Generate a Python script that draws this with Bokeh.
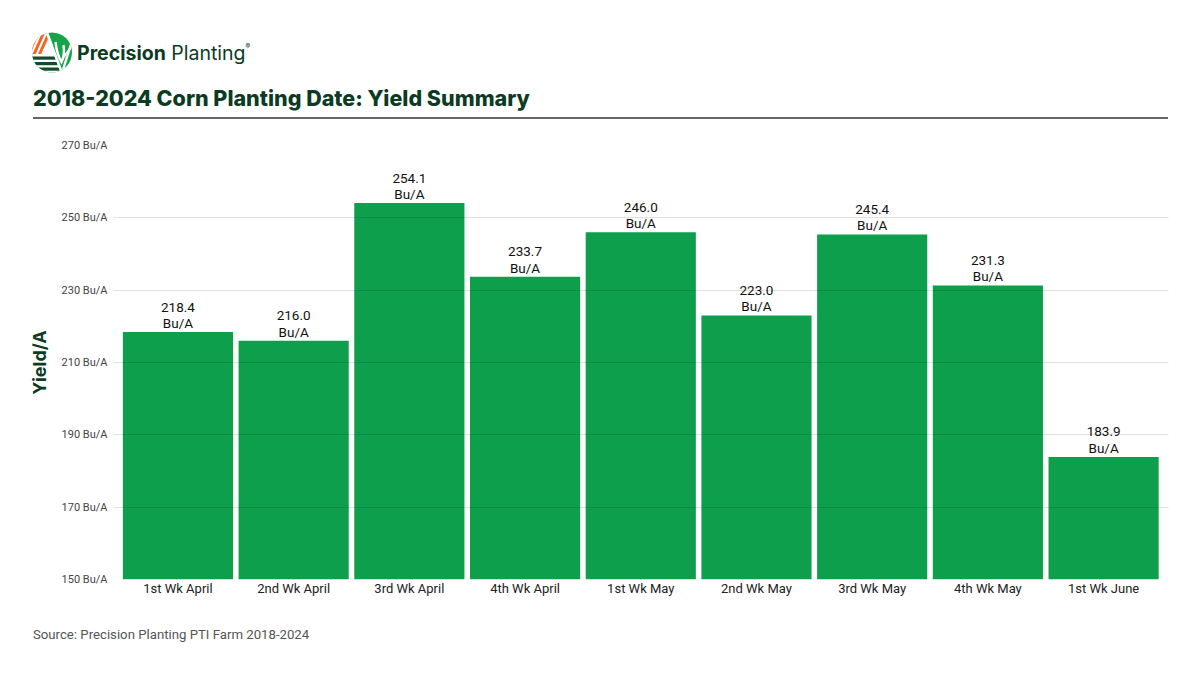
from bokeh.plotting import figure
from bokeh.models import Range1d, FixedTicker, PrintfTickFormatter, ColumnDataSource, Div
from bokeh.layouts import column
from bokeh.core.properties import value
from bokeh.embed import file_html
from bokeh.resources import INLINE

# ---------------- data ----------------
categories = ["1st Wk April", "2nd Wk April", "3rd Wk April", "4th Wk April",
              "1st Wk May", "2nd Wk May", "3rd Wk May", "4th Wk May", "1st Wk June"]
yields = [218.4, 216.0, 254.1, 233.7, 246.0, 223.0, 245.4, 231.3, 183.9]
y_ticks = [150, 170, 190, 210, 230, 250, 270]

brand_bold = "Precision"
brand_regular = "Planting"
title_text = "2018-2024 Corn Planting Date: Yield Summary"
source_text = "Source: Precision Planting PTI Farm 2018-2024"

FONT = "Roboto"
TFONT = "Inter"
DARK = "#0c3b24"
BAR = "#0e9f4d"

W = 1184
HDR_H = 133
MAIN_H = 477
FTR_H = 49

# ---------------- header (logo, brand, title, rule) ----------------
header_svg = f"""
<svg xmlns="http://www.w3.org/2000/svg" width="{W}" height="{HDR_H}" style="display:block">
  <defs>
    <clipPath id="lc"><circle cx="52" cy="52.5" r="20"/></clipPath>
    <clipPath id="ll"><polygon points="30,30 44.5,30 61.5,75 30,75"/></clipPath>
  </defs>
  <g clip-path="url(#lc)">
    <rect x="30" y="30" width="45" height="45" fill="#17a34a"/>
    <polygon points="30,30 45.5,30 62.5,75 30,75" fill="#ffffff"/>
    <g clip-path="url(#ll)">
      <polygon points="27,54 30.2,54 39.2,34 36,34" fill="#f26522"/>
      <polygon points="32.5,54 35.7,54 44.7,34 41.5,34" fill="#f26522"/>
      <polygon points="38,54 41.2,54 50.2,34 47,34" fill="#f26522"/>
      <rect x="30" y="56.5" width="30" height="3.2" fill="#0f4d2c"/>
      <rect x="30" y="62" width="30" height="3.2" fill="#0f4d2c"/>
      <rect x="30" y="67.5" width="30" height="3.2" fill="#0f4d2c"/>
    </g>
    <polyline points="46.5,31 62,73 72,41" fill="none" stroke="#ffffff" stroke-width="2.4"/>
    <path d="M55.5,42 Q57,55 61.5,62 Q65,54 63.5,45" fill="none" stroke="#ffffff" stroke-width="2.4"/>
    <path d="M61.5,62 Q66,52 71,48" fill="none" stroke="#ffffff" stroke-width="1.8"/>
  </g>
  <text x="77" y="52.5" dominant-baseline="central" style="font-family:'{TFONT}';font-size:19.5px;fill:{DARK}"><tspan style="font-weight:700">{brand_bold}</tspan><tspan style="font-weight:400"> {brand_regular}</tspan><tspan style="font-size:7px" dy="-7">®</tspan></text>
  <text x="33" y="97.5" dominant-baseline="central" style="font-family:'{TFONT}';font-weight:800;font-size:21.5px;fill:{DARK}">{title_text}</text>
  <line x1="33" y1="118" x2="1168" y2="118" stroke="#333333" stroke-width="1.5"/>
</svg>
"""
hdr = Div(text=header_svg, width=W, height=HDR_H, styles={"margin": "0", "padding": "0"})

# ---------------- main chart ----------------
FL, FR = 113, 1168          # frame left / right on page
xs = list(range(len(categories)))
src = ColumnDataSource(dict(x=xs, top=yields, lbl=[f"{v:.1f}" for v in yields],
                            unit=["Bu/A"] * len(yields)))

p = figure(width=W, height=MAIN_H, x_range=Range1d(-0.557, 8.561), y_range=Range1d(150, 270),
           output_backend="svg", toolbar_location=None,
           min_border_left=FL, min_border_right=W - FR, min_border_top=12, min_border_bottom=31)
p.outline_line_color = None
p.vbar(x="x", top="top", bottom=150, width=0.952, source=src,
       fill_color=BAR, fill_alpha=1.0, line_color=None)
p.text(x="x", y="top", text="lbl", source=src, y_offset=-25, text_align="center",
       text_baseline="middle", text_font=value(FONT), text_font_size="13.5px", text_color="#111111")
p.text(x="x", y="top", text="unit", source=src, y_offset=-9, text_align="center",
       text_baseline="middle", text_font=value(FONT), text_font_size="13.5px", text_color="#111111")

p.xgrid.visible = False
p.ygrid.grid_line_color = "black"
p.ygrid.grid_line_alpha = 0.12
p.ygrid.level = "annotation"
p.ygrid.ticker = FixedTicker(ticks=y_ticks)

p.yaxis.ticker = FixedTicker(ticks=y_ticks)
p.yaxis.formatter = PrintfTickFormatter(format="%d Bu/A")
p.yaxis.axis_line_color = None
p.yaxis.major_tick_line_color = None
p.yaxis.minor_tick_line_color = None
p.yaxis.major_tick_out = 0
p.yaxis.major_tick_in = 0
p.yaxis.minor_tick_out = 0
p.yaxis.major_label_text_font = FONT
p.yaxis.major_label_text_font_size = "11px"
p.yaxis.major_label_text_color = "#444444"
p.yaxis.major_label_standoff = 6
p.yaxis.axis_label = "Yield/A"
p.yaxis.axis_label_text_font = TFONT
p.yaxis.axis_label_text_font_style = "bold"
p.yaxis.axis_label_text_font_size = "18px"
p.yaxis.axis_label_text_color = DARK
p.yaxis.axis_label_standoff = 9

p.xaxis.ticker = FixedTicker(ticks=xs)
p.xaxis.major_label_overrides = {i: c for i, c in enumerate(categories)}
p.xaxis.axis_line_color = None
p.xaxis.major_tick_line_color = None
p.xaxis.minor_tick_line_color = None
p.xaxis.major_tick_out = 0
p.xaxis.major_tick_in = 0
p.xaxis.minor_tick_out = 0
p.xaxis.major_label_text_font = FONT
p.xaxis.major_label_text_font_size = "13px"
p.xaxis.major_label_text_color = "#222222"
p.xaxis.major_label_standoff = 1

# ---------------- footer ----------------
footer_svg = f"""
<svg xmlns="http://www.w3.org/2000/svg" width="{W}" height="{FTR_H}" style="display:block">
  <text x="33" y="24" dominant-baseline="central" style="font-family:'{FONT}';font-size:13.2px;fill:#555555">{source_text}</text>
</svg>
"""
ftr = Div(text=footer_svg, width=W, height=FTR_H, styles={"margin": "0", "padding": "0"})

layout = column(hdr, p, ftr, spacing=0)
open("out.html", "w").write(file_html(layout, INLINE))
